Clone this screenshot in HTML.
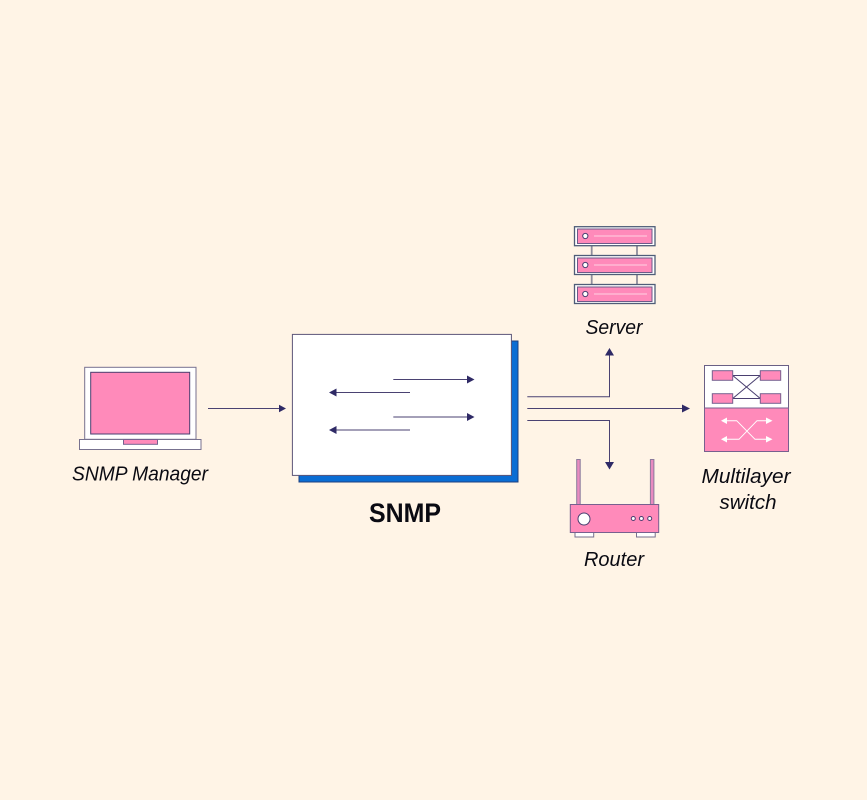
<!DOCTYPE html>
<html><head><meta charset="utf-8"><style>
html,body{margin:0;padding:0;background:#fff4e6;width:867px;height:800px;overflow:hidden}
svg{display:block}
text{font-family:"Liberation Sans",sans-serif;fill:#0a0a12}
.l{font-style:italic;font-size:20px}
</style></head><body>
<svg width="867" height="800" viewBox="0 0 867 800" xmlns="http://www.w3.org/2000/svg">
<rect width="867" height="800" fill="#fff4e6"/>
<g stroke="#4a3f70" stroke-width="1">
<!-- laptop -->
<rect x="84.7" y="367.3" width="111.3" height="72" fill="#fff" stroke="#77718f"/>
<rect x="90.7" y="372.3" width="99" height="61.7" fill="#ff8aba"/>
<rect x="79.5" y="439.5" width="121.5" height="10" fill="#fff" stroke="#77718f"/>
<rect x="123.5" y="439.5" width="34" height="4.8" fill="#ff8aba" stroke="#77608f"/>
<!-- main -->
<rect x="299" y="341" width="219" height="141" fill="#0a6dd4" stroke="#1d3f80"/>
<rect x="292.4" y="334.4" width="219" height="141" fill="#fff" stroke="#5d5678"/>
<!-- server -->
<path d="M591.7 245V285M637 245V285" stroke="#8f8d9c" stroke-width="1.8" fill="none"/>
<rect x="574.5" y="226.7" width="80.5" height="19" fill="#fff" stroke="#4f5d78" stroke-width="1.3"/>
<rect x="577.5" y="229" width="74.5" height="14.5" fill="#ff8aba" stroke="#6d5a88"/>
<rect x="574.5" y="255.5" width="80.5" height="19" fill="#fff" stroke="#4f5d78" stroke-width="1.3"/>
<rect x="577.5" y="258" width="74.5" height="14.5" fill="#ff8aba" stroke="#6d5a88"/>
<rect x="574.5" y="284.5" width="80.5" height="19" fill="#fff" stroke="#4f5d78" stroke-width="1.3"/>
<rect x="577.5" y="287" width="74.5" height="14.5" fill="#ff8aba" stroke="#6d5a88"/>
<circle cx="585.3" cy="236" r="2.6" fill="#fff"/>
<circle cx="585.3" cy="265" r="2.6" fill="#fff"/>
<circle cx="585.3" cy="294" r="2.6" fill="#fff"/>
<path d="M594 236H647M594 265H647M594 294H647" stroke="#ffc4da" stroke-width="1.2" fill="none"/>
<!-- switch -->
<rect x="704.5" y="365.5" width="84" height="42.5" fill="#fff" stroke="#6a5f85"/>
<rect x="704.5" y="408" width="84" height="43.5" fill="#ff8aba" stroke="#77608f"/>
<path d="M732.7 375.5L760.3 398.5M732.7 398.5L760.3 375.5M732.7 375.5H760.3M732.7 398.5H760.3" fill="none"/>
<rect x="712.3" y="370.7" width="20.4" height="9.6" fill="#ff8aba" stroke="#77608f"/>
<rect x="760.3" y="370.7" width="20.4" height="9.6" fill="#ff8aba" stroke="#77608f"/>
<rect x="712.3" y="393.7" width="20.4" height="9.6" fill="#ff8aba" stroke="#77608f"/>
<rect x="760.3" y="393.7" width="20.4" height="9.6" fill="#ff8aba" stroke="#77608f"/>
<g stroke="#fff" stroke-width="1" fill="none">
<path d="M726 420.7H736.7L755 439.3H767"/>
<path d="M726 439.3H739L757 420.7H767"/>
</g>
<g fill="#fff" stroke="none">
<path d="M721 420.7L727 417.5V424Z"/><path d="M721 439.3L727 436V442.5Z"/>
<path d="M772.5 420.7L766 417.5V424Z"/><path d="M772.5 439.3L766 436V442.5Z"/>
</g>
<!-- router -->
<rect x="576.7" y="459.5" width="3.5" height="45" fill="#e88ac0" stroke="#8a7a9c"/>
<rect x="650.4" y="459.5" width="3.5" height="45" fill="#e88ac0" stroke="#8a7a9c"/>
<rect x="575" y="532.3" width="18.7" height="4.7" fill="#fff" stroke="#77718f"/>
<rect x="636.5" y="532.3" width="18.7" height="4.7" fill="#fff" stroke="#77718f"/>
<rect x="570.3" y="504.5" width="88.4" height="28" fill="#ff8aba" stroke="#77608f"/>
<circle cx="584" cy="519" r="6" fill="#fff"/>
<circle cx="633.3" cy="518.5" r="2" fill="#fff"/>
<circle cx="641.4" cy="518.5" r="2" fill="#fff"/>
<circle cx="649.7" cy="518.5" r="2" fill="#fff"/>
</g>
<!-- connectors -->
<g stroke="#4a4272" stroke-width="1" fill="none">
<path d="M208 408.5H280"/>
<path d="M393.3 379.5H468M410 392.5H335M393.3 417H468M410 430H335"/>
<path d="M527.3 396.8H609.5V353"/>
<path d="M527.3 408.5H683"/>
<path d="M527.3 420.5H609.5V464"/>
</g>
<g fill="#2f2a66">
<path d="M286 408.5L279 404.7V412.3Z"/>
<path d="M474.5 379.5L467 375.5V383.5Z"/>
<path d="M329 392.5L336.5 388.5V396.5Z"/>
<path d="M474.5 417L467 413V421Z"/>
<path d="M329 430L336.5 426V434Z"/>
<path d="M609.5 348L605 355.5H614Z"/>
<path d="M690 408.5L682 404.5V412.5Z"/>
<path d="M609.5 469.5L605 462H614Z"/>
</g>
<!-- labels -->
<text class="l" x="140" y="480.5" text-anchor="middle" textLength="136" lengthAdjust="spacingAndGlyphs">SNMP Manager</text>
<text class="l" x="614" y="334" text-anchor="middle" textLength="57" lengthAdjust="spacingAndGlyphs">Server</text>
<text class="l" x="614" y="566" text-anchor="middle" textLength="60" lengthAdjust="spacingAndGlyphs">Router</text>
<text class="l" x="746" y="483" text-anchor="middle" textLength="89" lengthAdjust="spacingAndGlyphs">Multilayer</text>
<text class="l" x="748" y="509" text-anchor="middle" textLength="57" lengthAdjust="spacingAndGlyphs">switch</text>
<text x="405" y="522" text-anchor="middle" font-size="27" font-weight="700" textLength="72" lengthAdjust="spacingAndGlyphs">SNMP</text>
</svg>
</body></html>
